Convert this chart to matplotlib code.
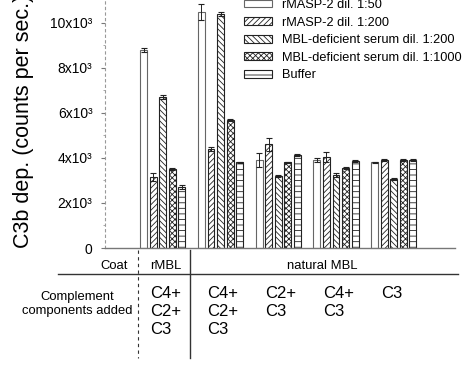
import numpy as np
import matplotlib
matplotlib.use('Agg')
import matplotlib.pyplot as plt
import matplotlib.transforms as mtransforms
from matplotlib.lines import Line2D

plt.rcParams['font.family'] = ['Liberation Sans', 'DejaVu Sans']
plt.rcParams['hatch.linewidth'] = 0.6

# данные
series = ['rMASP-2 dil. 1:50', 'rMASP-2 dil. 1:200',
          'MBL-deficient serum dil. 1:200', 'MBL-deficient serum dil. 1:1000',
          'Buffer']
masp_50 = [8800, 10500, 3900, 3900, 3800]
masp_200 = [3150, 4400, 4600, 4050, 3900]
def_200 = [6700, 10400, 3200, 3250, 3050]
def_1000 = [3500, 5700, 3800, 3550, 3900]
buffer = [2700, 3800, 4150, 3850, 3900]
err_masp_50 = [100, 350, 300, 80, 40]
err_masp_200 = [180, 100, 300, 220, 40]
err_def_200 = [80, 80, 60, 80, 40]
err_def_1000 = [40, 40, 40, 40, 40]
err_buffer = [100, 40, 40, 40, 40]

coat = ['rMBL', 'natural MBL']
components = ['C4+\nC2+\nC3', 'C4+\nC2+\nC3', 'C2+\nC3', 'C4+\nC3', 'C3']

yticks = [0, 2000, 4000, 6000, 8000, 10000]
ytick_labels = ['0', '2x10³', '4x10³', '6x10³', '8x10³', '10x10³']

values = [masp_50, masp_200, def_200, def_1000, buffer]
errors = [err_masp_50, err_masp_200, err_def_200, err_def_1000, err_buffer]
hatches = ['', '//////', '\\\\\\\\\\\\', 'xxxxxx', '---']
edges = ['#666666', '#222222', '#222222', '#222222', '#222222']

W, H = 474, 381
fig = plt.figure(figsize=(W / 100, H / 100), dpi=100)
ax = fig.add_axes([105 / W, 1 - 248 / H, 350 / W, 248 / H])

x = np.arange(len(masp_50))
step = 0.165
for i in range(5):
    ax.bar(x + (i - 2) * step, values[i], width=0.12, color='white',
           edgecolor=edges[i], hatch=hatches[i], linewidth=0.8,
           label=series[i], yerr=errors[i],
           error_kw=dict(ecolor='#222222', elinewidth=0.7, capsize=2, capthick=0.8))

ax.set_xlim(-1.0, 5.06)
ax.set_ylim(0, 11020)
ax.set_yticks(yticks)
ax.set_yticklabels(ytick_labels, fontsize=10)
ax.set_yticks(np.arange(1000, 11000, 2000), minor=True)
ax.tick_params(axis='y', which='major', length=3, width=0.8, color='#777777', pad=6)
ax.tick_params(axis='y', which='minor', length=1.5, width=0.6, color='#999999')
ax.set_xticks([])
for s in ['top', 'right']:
    ax.spines[s].set_visible(False)
ax.spines['left'].set_color('#999999')
ax.spines['left'].set_linestyle((0, (2, 3)))
ax.spines['left'].set_linewidth(0.8)
ax.spines['bottom'].set_color('#777777')
ax.spines['bottom'].set_linewidth(1.0)

ax.legend(loc='upper left', bbox_to_anchor=(244 / W, 1 + 1 / H),
          bbox_transform=fig.transFigure, frameon=False, fontsize=9.2,
          handlelength=2.2, handleheight=0.55, handletextpad=0.75,
          labelspacing=0.44, borderpad=0, borderaxespad=0)

fig.text(24 / W, 1 - 121 / H, 'C3b dep. (counts per sec.)', rotation=90,
         ha='center', va='center', fontsize=15.5)

# таблица под графиком
fig.add_artist(Line2D([58 / W, 458 / W], [1 - 274 / H, 1 - 274 / H],
                      color='#333333', lw=1.0))
fig.add_artist(Line2D([190 / W, 190 / W], [1 - 250 / H, 1 - 358 / H],
                      color='#333333', lw=1.0))
fig.add_artist(Line2D([138 / W, 138 / W], [1 - 250 / H, 1 - 358 / H],
                      color='#333333', lw=0.8, ls=(0, (3, 3))))

fig.text(128 / W, 1 - 266 / H, 'Coat', ha='right', va='center', fontsize=9.4)
fig.text(166 / W, 1 - 266 / H, coat[0], ha='center', va='center', fontsize=9.4)
fig.text(322 / W, 1 - 266 / H, coat[1], ha='center', va='center', fontsize=9.4)
fig.text(77 / W, 1 - 304 / H, 'Complement\ncomponents added', ha='center',
         va='center', fontsize=9.4, linespacing=1.3)

trans = mtransforms.blended_transform_factory(ax.transData, fig.transFigure)
for i, txt in enumerate(components):
    ax.text(x[i] - 0.225, 1 - 286 / H, txt, transform=trans, ha='left', va='top',
            fontsize=12, linespacing=1.27, clip_on=False)

fig.savefig('out.png', dpi=100)
